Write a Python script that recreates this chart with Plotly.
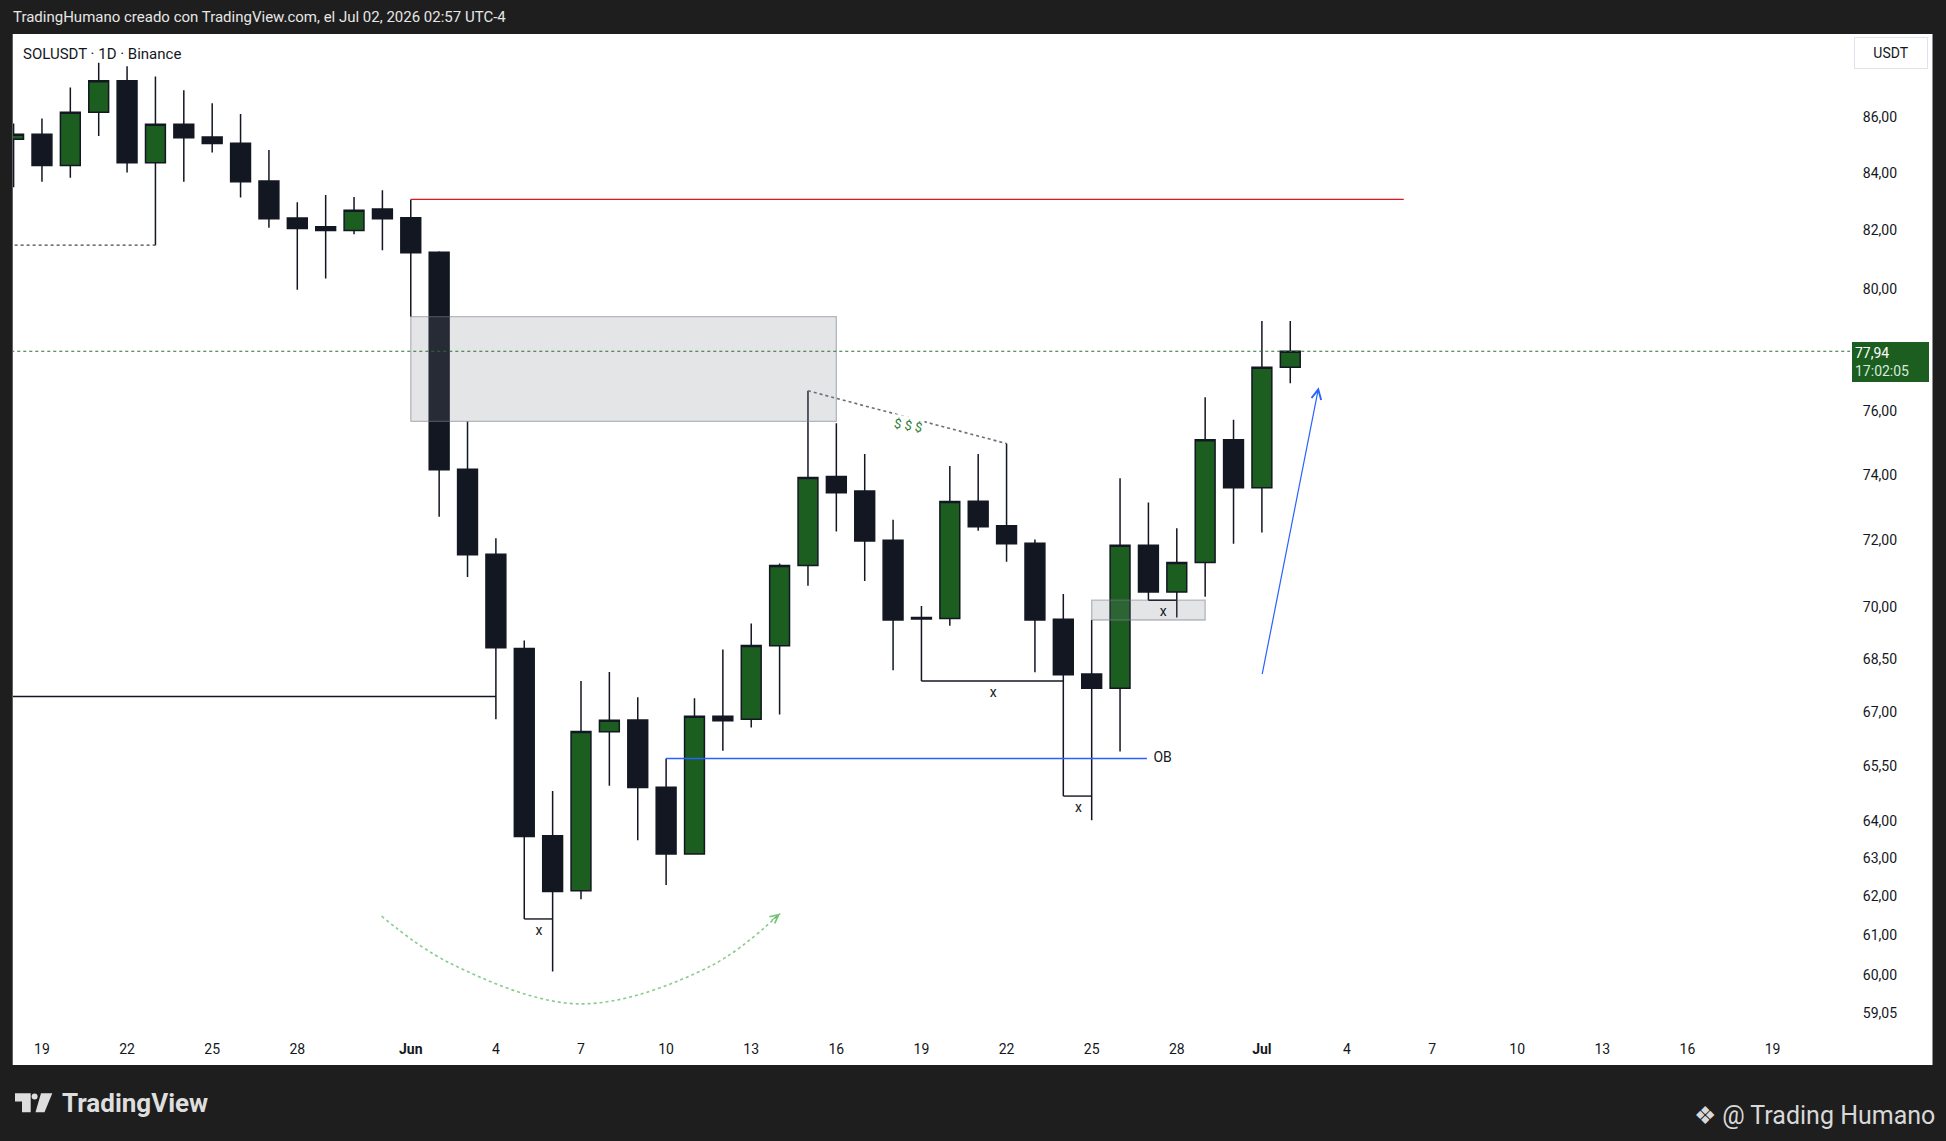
import math
import pandas as pd
import plotly.graph_objects as go

# ---------------- data ----------------
dates = pd.date_range("2026-05-18", "2026-07-02", freq="D").strftime("%Y-%m-%d").tolist()

opens = [85.19, 85.37, 84.26, 86.16, 87.31, 84.36, 85.73, 85.27, 85.05, 83.71,
         82.42, 82.12, 81.99, 82.74, 82.43, 81.25, 74.18, 71.58, 68.80, 63.60,
         62.15, 66.44, 66.77, 64.91, 63.12, 66.87, 66.79, 68.88, 71.24, 73.95,
         73.50, 72.00, 69.70, 69.67, 73.19, 72.44, 71.91, 69.65, 68.07, 67.66,
         71.85, 70.45, 71.33, 75.10, 73.60, 77.42]
highs = [85.76, 85.94, 87.06, 87.97, 87.84, 87.47, 86.96, 86.49, 86.10, 84.81,
         82.97, 83.22, 83.15, 83.39, 83.07, 81.28, 75.68, 72.06, 69.03, 64.81,
         67.87, 68.13, 67.41, 65.70, 67.38, 68.77, 69.53, 71.30, 76.66, 75.62,
         74.65, 72.62, 70.04, 74.28, 74.65, 74.98, 72.02, 70.39, 69.63, 73.90,
         73.15, 72.36, 76.45, 75.73, 78.94, 78.94]
lows = [83.49, 83.69, 83.83, 85.31, 84.01, 81.49, 83.69, 84.72, 83.14, 82.09,
        79.98, 80.36, 81.86, 81.32, 79.08, 72.71, 70.90, 66.79, 61.42, 60.08,
        61.93, 64.95, 63.48, 62.30, 63.10, 65.91, 66.56, 66.92, 70.64, 72.26,
        70.78, 68.18, 67.87, 69.46, 72.29, 71.35, 68.12, 64.67, 64.02, 65.89,
        70.21, 69.70, 70.31, 71.89, 72.23, 76.90]
closes = [85.37, 84.26, 86.16, 87.31, 84.36, 85.73, 85.25, 85.04, 83.69, 82.40,
          82.06, 81.99, 82.69, 82.40, 81.23, 74.16, 71.56, 68.82, 63.58, 62.13,
          66.45, 66.76, 64.90, 63.12, 66.87, 66.75, 68.89, 71.24, 73.92, 73.45,
          71.98, 69.63, 69.66, 73.18, 72.41, 71.89, 69.63, 68.05, 67.66, 71.85,
          70.45, 71.33, 75.10, 73.60, 77.42, 77.94]

last_price = 77.94

y_tick_vals = [86, 84, 82, 80, 76, 74, 72, 70, 68.5, 67, 65.5, 64, 63, 62, 61, 60, 59.05]
y_tick_text = [f"{v:.2f}".replace(".", ",") for v in y_tick_vals]

x_tick_vals = ["2026-05-19", "2026-05-22", "2026-05-25", "2026-05-28", "2026-06-01",
               "2026-06-04", "2026-06-07", "2026-06-10", "2026-06-13", "2026-06-16",
               "2026-06-19", "2026-06-22", "2026-06-25", "2026-06-28", "2026-07-01",
               "2026-07-04", "2026-07-07", "2026-07-10", "2026-07-13", "2026-07-16",
               "2026-07-19"]
x_tick_text = ["19", "22", "25", "28", "<b>Jun</b>", "4", "7", "10", "13", "16", "19",
               "22", "25", "28", "<b>Jul</b>", "4", "7", "10", "13", "16", "19"]

# drawings (dates / prices)
fvg_box = dict(x0="2026-06-01", x1="2026-06-16", y0=75.68, y1=79.08)
small_box = dict(x0="2026-06-25", x1="2026-06-29", y0=69.63, y1=70.21)
red_level = dict(x0="2026-06-01", x1="2026-07-06", y=83.07)
ob_level = dict(x0="2026-06-10", x1="2026-06-26 22:45", y=65.70)
low_dotted = dict(x0="2026-05-10", x1="2026-05-23", y=81.49)
low_solid = dict(x0="2026-05-10", x1="2026-06-04", y=67.43)
liq_line_x = ["2026-06-15", "2026-06-22"]
liq_line_y = [76.66, 74.98]
bracket_x0 = ["2026-06-05", "2026-06-19", "2026-06-24", "2026-06-27"]
bracket_x1 = ["2026-06-06", "2026-06-24", "2026-06-25", "2026-06-28"]
bracket_y = [61.42, 67.87, 64.67, 70.21]
x_marks_x = ["2026-06-05 12:30", "2026-06-21 12:45", "2026-06-24 12:45", "2026-06-27 12:30"]
x_marks_y = [61.10, 67.52, 64.33, 69.86]
arc_x = ["2026-05-30 23:20", "2026-06-02 09:10", "2026-06-06 23:00", "2026-06-11 13:10", "2026-06-14 00:30"]
arc_y = [61.49, 60.29, 59.27, 60.21, 61.56]
arrow_start = ("2026-07-01", 68.02)
arrow_end = ("2026-07-03", 76.77)

# ---------------- layout geometry ----------------
W, H = 1946, 1141
ML, MR, MT, MB = 13, 96, 34, 108
PW, PH = W - ML - MR, H - MT - MB


def px_x(px):
    return (px - ML) / PW


def px_y(py):
    return 1 - (py - MT) / PH


BG = "#1e1e1e"
INK = "#131722"
UP = "#1b5e20"
FONT = "Roboto, Liberation Sans, sans-serif"
LOGO = "#dedede"

fig = go.Figure()

# boxes
for b in (fvg_box, small_box):
    fig.add_trace(go.Scatter(
        x=[b["x0"], b["x1"], b["x1"], b["x0"], b["x0"]],
        y=[b["y0"], b["y0"], b["y1"], b["y1"], b["y0"]],
        mode="lines", fill="toself", fillcolor="rgba(120,123,134,0.2)",
        line=dict(color="rgba(120,123,134,0.5)", width=1.3), hoverinfo="skip", showlegend=False))

# current price dotted line
fig.add_trace(go.Scatter(x=["2026-05-01", "2026-08-15"], y=[last_price, last_price],
                         mode="lines", line=dict(color="#2e6b34", width=1.1, dash="dot"),
                         hoverinfo="skip", showlegend=False))


def hline(d, color, dash="solid", width=1.3):
    fig.add_trace(go.Scatter(x=[d["x0"], d["x1"]], y=[d["y"], d["y"]], mode="lines",
                             line=dict(color=color, width=width, dash=dash),
                             hoverinfo="skip", showlegend=False))


hline(low_dotted, "#434651", "dot", 1.3)
hline(low_solid, INK, "solid", 1.4)
hline(red_level, "#e3161e", "solid", 1.4)
hline(ob_level, "#2962ff", "solid", 1.4)

for x0, x1, yv in zip(bracket_x0, bracket_x1, bracket_y):
    fig.add_trace(go.Scatter(x=[x0, x1], y=[yv, yv], mode="lines",
                             line=dict(color=INK, width=1.4),
                             hoverinfo="skip", showlegend=False))

# liquidity dotted line
fig.add_trace(go.Scatter(x=liq_line_x, y=liq_line_y, mode="lines",
                         line=dict(color="#6b6e78", width=1.6, dash="dot"),
                         hoverinfo="skip", showlegend=False))

# arc
fig.add_trace(go.Scatter(x=arc_x, y=arc_y, mode="lines",
                         line=dict(color="rgba(76,175,80,0.65)", width=1.6, dash="dot",
                                   shape="spline", smoothing=1.0),
                         hoverinfo="skip", showlegend=False))

# candles
fig.add_trace(go.Candlestick(
    x=dates, open=opens, high=highs, low=lows, close=closes,
    increasing=dict(line=dict(color=INK, width=1.5), fillcolor=UP),
    decreasing=dict(line=dict(color=INK, width=1.5), fillcolor=INK),
    whiskerwidth=0, hoverinfo="skip", showlegend=False))

# text marks
fig.add_trace(go.Scatter(x=x_marks_x, y=x_marks_y, mode="text", text=["x"] * len(x_marks_x),
                         textfont=dict(family=FONT, size=14, color=INK),
                         hoverinfo="skip", showlegend=False))
fig.add_trace(go.Scatter(x=["2026-06-27 12:00"], y=[ob_level["y"]], mode="text", text=["OB"],
                         textfont=dict(family=FONT, size=14, color=INK),
                         hoverinfo="skip", showlegend=False))

annotations = []
annotations.append(dict(x="2026-06-18 13:00", y=math.log10(75.54), xref="x", yref="y",
                        text="$ $ $", showarrow=False, textangle=9.7,
                        font=dict(family=FONT, size=13, color="#2e7d32"),
                        bgcolor="white", borderpad=1))
annotations.append(dict(x=arrow_end[0], y=math.log10(arrow_end[1]), xref="x", yref="y",
                        ax=arrow_start[0], ay=math.log10(arrow_start[1]), axref="x", ayref="y",
                        text="", showarrow=True, arrowhead=5, arrowsize=1.6, arrowwidth=1.2,
                        arrowcolor="#2962ff"))
annotations.append(dict(x=arc_x[-1], y=math.log10(arc_y[-1]), xref="x", yref="y",
                        ax=-10, ay=8, text="", showarrow=True, arrowhead=5, arrowsize=1.4,
                        arrowwidth=1.2, arrowcolor="rgba(76,175,80,0.75)"))
annotations.append(dict(x=px_x(1852), y=math.log10(last_price), xref="paper", yref="y",
                        xanchor="left", yanchor="top", yshift=9, align="left", showarrow=False,
                        text="77,94<br><span style='color:#d7ead8'>17:02:05</span>",
                        font=dict(family=FONT, size=14, color="white"),
                        bgcolor=UP, bordercolor=UP, borderpad=2, width=71))
annotations.append(dict(x=px_x(1891), y=px_y(53), xref="paper", yref="paper",
                        xanchor="center", yanchor="middle", showarrow=False, text="USDT",
                        font=dict(family=FONT, size=14, color=INK),
                        bgcolor="white", bordercolor="#e0e3eb", borderwidth=1, borderpad=5,
                        width=62, height=20))
annotations.append(dict(x=px_x(11), y=px_y(17), xref="paper", yref="paper",
                        xanchor="left", yanchor="middle", showarrow=False,
                        text="TradingHumano creado con TradingView.com, el Jul 02, 2026 02:57 UTC-4",
                        font=dict(family=FONT, size=15, color="#e6e6e6")))
annotations.append(dict(x=px_x(21), y=px_y(54), xref="paper", yref="paper",
                        xanchor="left", yanchor="middle", showarrow=False,
                        text="SOLUSDT · 1D · Binance",
                        font=dict(family=FONT, size=15, color=INK)))
annotations.append(dict(x=px_x(60), y=px_y(1103), xref="paper", yref="paper",
                        xanchor="left", yanchor="middle", showarrow=False,
                        text="<b>TradingView</b>", font=dict(family=FONT, size=26, color=LOGO)))
annotations.append(dict(x=px_x(1937), y=px_y(1115), xref="paper", yref="paper",
                        xanchor="right", yanchor="middle", showarrow=False,
                        text="❖ @ Trading Humano",
                        font=dict(family=FONT, size=25, color="#d8d8d8")))


def pp(x, y):
    return f"{px_x(x):.5f},{px_y(y):.5f}"


shapes = [
    dict(type="rect", xref="paper", yref="paper",
         x0=px_x(12.7), x1=px_x(1932.5), y0=px_y(1065), y1=px_y(34),
         fillcolor="white", line=dict(width=0), layer="below"),
    # TradingView logo mark
    dict(type="path", xref="paper", yref="paper", layer="above", fillcolor=LOGO, line=dict(width=0),
         path=f"M{pp(15, 1093.3)} L{pp(30.7, 1093.3)} L{pp(30.7, 1112.3)} L{pp(22, 1112.3)} "
              f"L{pp(22, 1101.5)} L{pp(15, 1101.5)} Z"),
    dict(type="circle", xref="paper", yref="paper", layer="above", fillcolor=LOGO, line=dict(width=0),
         x0=px_x(31.6), x1=px_x(37.6), y0=px_y(1099.6), y1=px_y(1093.6)),
    dict(type="path", xref="paper", yref="paper", layer="above", fillcolor=LOGO, line=dict(width=0),
         path=f"M{pp(41, 1093.3)} L{pp(52.3, 1093.3)} L{pp(44.5, 1112.3)} L{pp(35.5, 1112.3)} Z"),
]

fig.update_layout(
    width=W, height=H, autosize=False,
    margin=dict(l=ML, r=MR, t=MT, b=MB, pad=0),
    paper_bgcolor=BG, plot_bgcolor="white",
    showlegend=False, hovermode=False,
    boxgap=0.3, boxgroupgap=0.0,
    font=dict(family=FONT, color=INK),
    annotations=annotations, shapes=shapes,
    xaxis=dict(type="date", range=["2026-05-17 23:30", "2026-07-21 17:30"],
               rangeslider=dict(visible=False), showgrid=False, zeroline=False,
               showline=False, tickmode="array", tickvals=x_tick_vals, ticktext=x_tick_text,
               ticks="outside", ticklen=3, tickcolor="rgba(0,0,0,0)",
               tickfont=dict(family=FONT, size=14, color=INK), fixedrange=True),
    yaxis=dict(type="log", range=[math.log10(58.55), math.log10(89.04)], side="right",
               showgrid=False, zeroline=False, showline=False,
               tickmode="array", tickvals=y_tick_vals, ticktext=y_tick_text,
               ticks="outside", ticklen=9, tickcolor="rgba(0,0,0,0)",
               tickfont=dict(family=FONT, size=14, color=INK), fixedrange=True),
)

fig.write_html(
    "out.html",
    config={"displayModeBar": False},
    post_script="document.body.style.margin='0';document.body.style.overflow='hidden';"
                "document.body.style.background='#1e1e1e';",
)
